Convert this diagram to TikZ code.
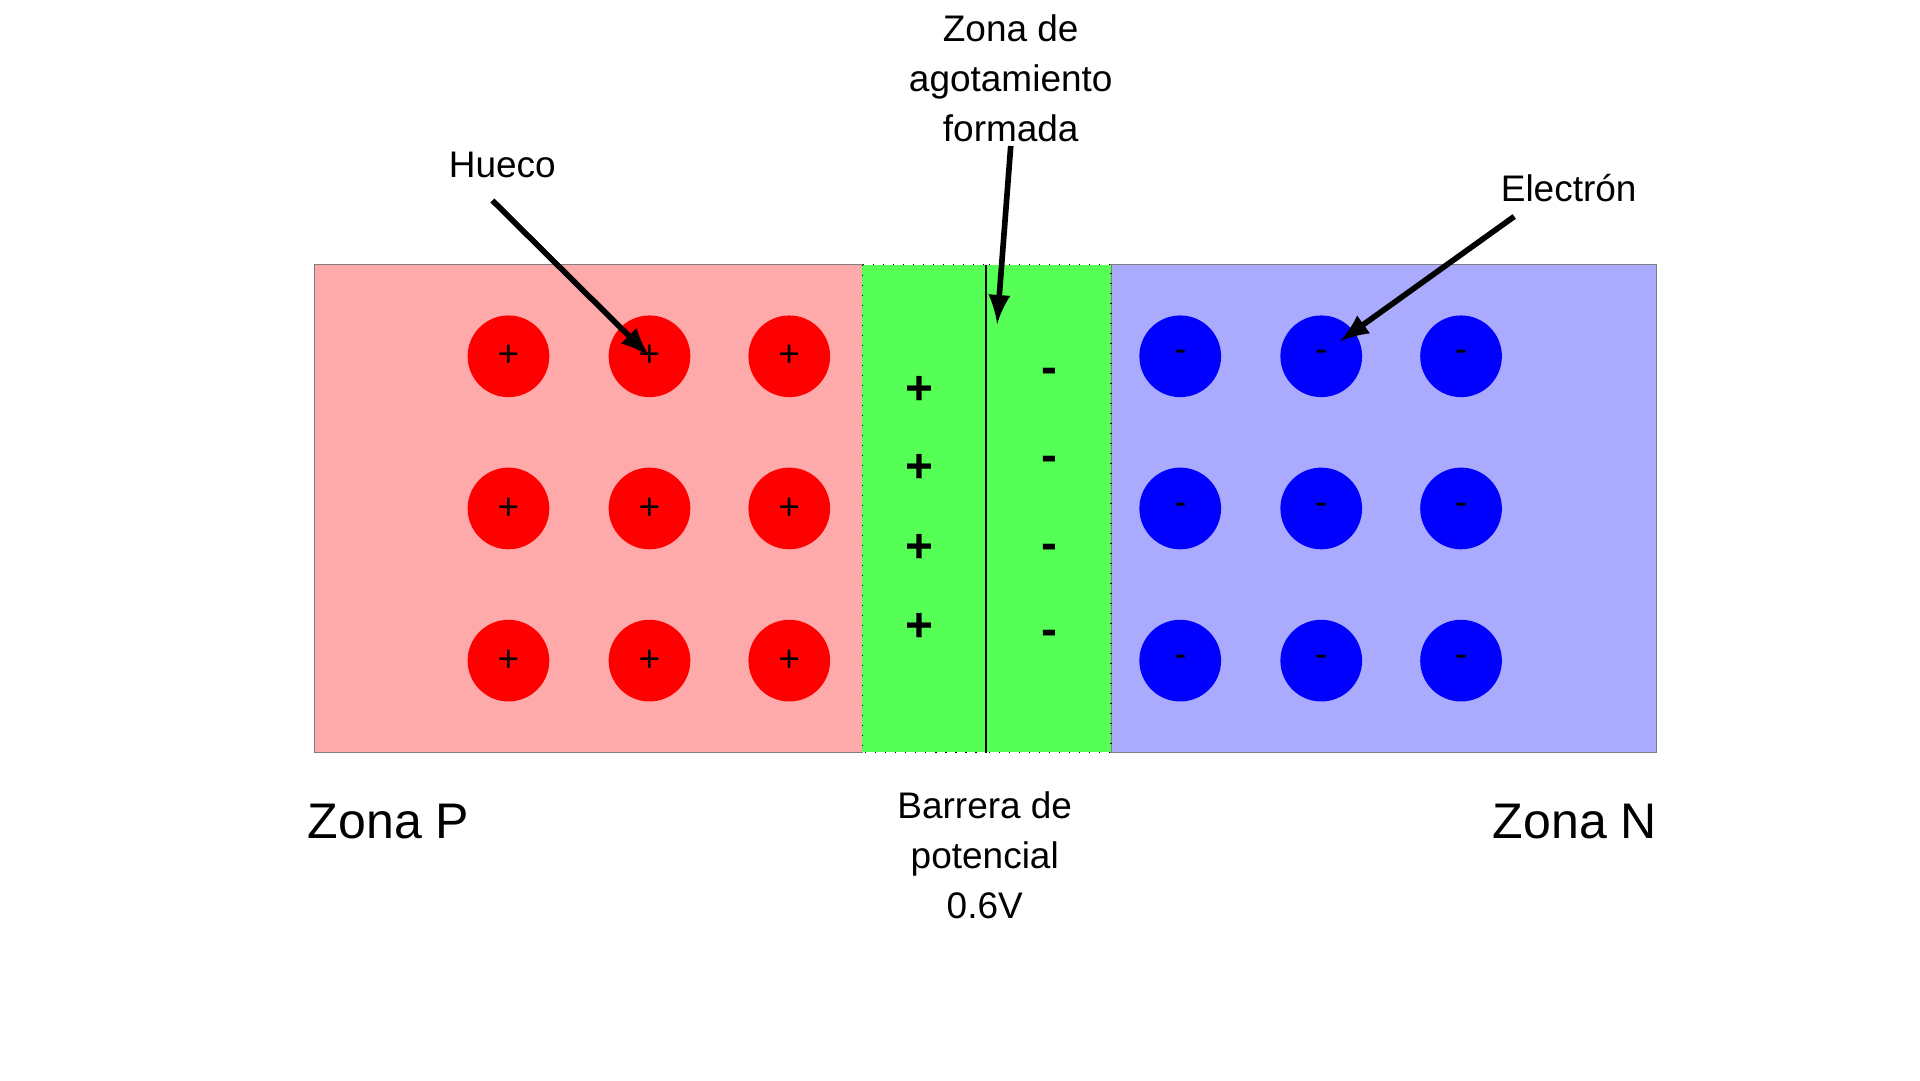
\documentclass[tikz,border=0pt]{standalone}
\usepackage{fontspec}
\setmainfont{Liberation Sans}
\begin{document}
\begin{tikzpicture}[x=0.01cm,y=-0.01cm,
  lbl/.style={font=\fontsize{8.5}{11.5}\selectfont,align=center,inner sep=0},
  big/.style={font=\fontsize{11.5}{14}\selectfont,inner sep=0},
  hole/.style={circle,fill=red,minimum size=0.66cm,inner sep=0,font=\fontsize{8.5}{10}\selectfont},
  elec/.style={circle,fill=blue,minimum size=0.66cm,inner sep=0,font=\fontsize{8.5}{10}\selectfont},
  chg/.style={font=\bfseries\fontsize{11}{13}\selectfont,inner sep=0},
  arr/.style={line width=1.3pt,-latex}]
\useasboundingbox (0,0) rectangle (1552,873);
\fill[fill={rgb,255:red,255;green,170;blue,170},draw=gray,line width=0.3pt] (254,214) rectangle (697,608);
\fill[fill={rgb,255:red,170;green,170;blue,255},draw=gray,line width=0.3pt] (898,214) rectangle (1339,608);
\fill[fill={rgb,255:red,85;green,255;blue,85},draw=black,dotted,line width=0.3pt] (697,214) rectangle (797,608);
\fill[fill={rgb,255:red,85;green,255;blue,85},draw=black,dotted,line width=0.3pt] (797,214) rectangle (898,608);
\draw[line width=0.4pt] (797,214) -- (797,608);
\foreach \x/\n in {411/a,525/b,638/c}{\foreach \y/\m in {288/1,411/2,534/3}{\node[hole] (h\n\m) at (\x,\y) {+};}}
\foreach \x/\n in {954/a,1068/b,1181/c}{\foreach \y/\m in {288/1,411/2,534/3}{\node[elec] (e\n\m) at (\x,\y) {-};}}
\foreach \y/\n in {316/1,379/2,443/3,507/4}{\node[chg] (p\n) at (743,\y) {+};}
\foreach \y/\n in {304/1,375/2,446/3,516/4}{\node[chg] (m\n) at (848,\y) {-};}
\node[lbl] (zda) at (817,63) {Zona de\\agotamiento\\formada};
\coordinate (zdt) at (806,262);
\draw[arr] (817,118) -- (zdt);
\node[lbl] (hue) at (406,133) {Hueco};
\draw[arr] (398,162) -- (hb1.center);
\node[lbl] (ele) at (1268,152) {Electrón};
\draw[arr] (1224,175) -- (1083,276);
\node[big] (zp) at (314,664) {Zona P};
\node[big] (zn) at (1273,664) {Zona N};
\node[lbl] (bar) at (796,691) {Barrera de\\potencial\\0.6V};
\end{tikzpicture}
\end{document}
